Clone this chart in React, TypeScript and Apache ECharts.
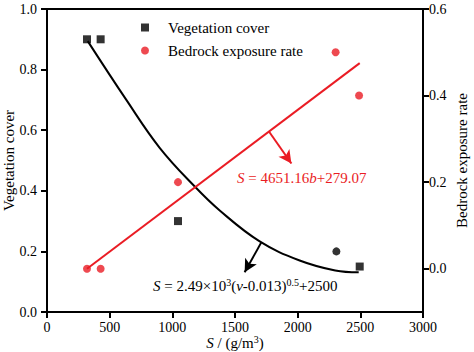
import React, { useEffect, useRef } from "react";
import * as echarts from "echarts";

const FONT = "'Liberation Serif', 'Times New Roman', serif";
const RED = "#ea1c24";

// Vegetation cover (left axis): [S, v]
const vegetationPoints: number[][] = [
  [319, 0.9],
  [428, 0.9],
  [1045, 0.3],
  [2495, 0.15],
];
const vegetationExtra: number[][] = [[2309, 0.2]];
// Bedrock exposure rate (right axis): [S, b]
const bedrockPoints: number[][] = [
  [319, 0.0],
  [428, 0.0],
  [1045, 0.2],
  [2303, 0.5],
  [2490, 0.4],
];
// Fitted curve
const vegetationFit: number[][] = [
  [325, 0.894],
  [633, 0.7],
  [899, 0.542],
  [1179, 0.414],
  [1378, 0.335],
  [1697, 0.233],
  [2016, 0.17],
  [2300, 0.137],
  [2487, 0.131],
];
const bedrockFit: number[][] = [
  [319, 0.0],
  [2495, 0.475],
];
const redArrow: number[][] = [
  [1771, 0.317],
  [1950, 0.243],
];
const blackArrow: number[][] = [
  [1709, 0.229],
  [1577, 0.131],
];
const xTicks = { min: 0, max: 3000, interval: 500 };
const leftTicks = { min: 0, max: 1, interval: 0.2 };
const rightTicks = [0, 0.2, 0.4, 0.6];

export default function App() {
  const ref = useRef<HTMLDivElement>(null);
  useEffect(() => {
    if (!ref.current) return;
    const chart = echarts.init(ref.current, null, { renderer: "svg" });
    const axisLine = { show: true, lineStyle: { color: "#000", width: 2 } };
    const axisTick = { show: true, inside: false, length: 6, lineStyle: { color: "#000", width: 2 } };
    const label = { color: "#000", fontFamily: FONT, fontSize: 14 };
    chart.setOption({
      animation: false,
      backgroundColor: "#fff",
      grid: {
        left: 47,
        right: 51,
        top: 9,
        bottom: 40,
        containLabel: false,
        outerBoundsMode: "none",
        show: true,
        borderColor: "#000",
        borderWidth: 2,
        backgroundColor: "transparent",
      },
      legend: {
        orient: "vertical",
        left: 141,
        top: 20,
        padding: 0,
        itemWidth: 8,
        itemHeight: 8,
        itemGap: 8,
        data: ["Vegetation cover", "Bedrock exposure rate"],
        formatter: "{a|{name}}",
        textStyle: {
          color: "#000",
          fontFamily: FONT,
          fontSize: 15,
          rich: { a: { fontFamily: FONT, fontSize: 15, color: "#000", padding: [0, 0, 0, 14] } },
        },
      },
      xAxis: {
        type: "value",
        ...xTicks,
        axisLine: { ...axisLine, onZero: false },
        axisTick,
        axisLabel: { ...label, margin: 8, formatter: (v: number) => String(v) },
        splitLine: { show: false },
        name: "{i|S} / (g/m{s|3})",
        nameLocation: "middle",
        nameGap: 22,
        nameMoveOverlap: false,
        nameTextStyle: {
          ...label,
          fontSize: 15,
          rich: {
            i: { fontFamily: FONT, fontSize: 15, fontStyle: "italic", color: "#000" },
            s: { fontFamily: FONT, fontSize: 10, color: "#000", verticalAlign: "bottom", padding: [0, 0, 8, 0] },
          },
        },
      },
      yAxis: [
        {
          type: "value",
          position: "left",
          ...leftTicks,
          axisLine: { ...axisLine, onZero: false },
          axisTick,
          axisLabel: { ...label, margin: 10, formatter: (v: number) => v.toFixed(1) },
          splitLine: { show: false },
          name: "Vegetation cover",
          nameLocation: "middle",
          nameGap: 31,
          nameMoveOverlap: false,
          nameRotate: 90,
          nameTextStyle: { ...label, fontSize: 15 },
        },
        {
          type: "value",
          position: "right",
          min: -0.1,
          max: 0.6,
          axisLine: { ...axisLine, onZero: false },
          axisTick: { ...axisTick, customValues: rightTicks },
          axisLabel: { ...label, margin: 6, customValues: rightTicks, formatter: (v: number) => v.toFixed(1) },
          splitLine: { show: false },
          name: "Bedrock exposure rate",
          nameLocation: "middle",
          nameGap: 31,
          nameMoveOverlap: false,
          nameRotate: 90,
          nameTextStyle: { ...label, fontSize: 15 },
        },
      ],
      series: [
        {
          name: "Vegetation cover fit",
          type: "line",
          smooth: 0.4,
          showSymbol: false,
          data: vegetationFit,
          lineStyle: { color: "#000", width: 2 },
          itemStyle: { color: "#000" },
          silent: true,
          markLine: {
            silent: true,
            symbol: ["none", "arrow"],
            symbolSize: [10, 13],
            label: { show: false },
            lineStyle: { color: "#000", width: 2, type: "solid" },
            data: [[{ coord: blackArrow[0] }, { coord: blackArrow[1] }]],
          },
        },
        {
          name: "Bedrock fit",
          type: "line",
          yAxisIndex: 1,
          showSymbol: false,
          data: bedrockFit,
          lineStyle: { color: RED, width: 2 },
          itemStyle: { color: RED },
          silent: true,
          markLine: {
            silent: true,
            symbol: ["none", "arrow"],
            symbolSize: [10, 13],
            label: { show: false },
            lineStyle: { color: RED, width: 2, type: "solid" },
            data: [[{ coord: redArrow[0] }, { coord: redArrow[1] }]],
          },
        },
        {
          name: "Vegetation cover",
          type: "scatter",
          symbol: "rect",
          symbolSize: 8,
          itemStyle: { color: "#000" },
          data: [
            ...vegetationPoints,
            ...vegetationExtra.map((p) => ({ value: p, symbol: "circle" })),
          ],
        },
        {
          name: "Bedrock exposure rate",
          type: "scatter",
          yAxisIndex: 1,
          symbol: "circle",
          symbolSize: 8,
          itemStyle: { color: RED },
          data: bedrockPoints,
        },
      ],
      graphic: [
        {
          type: "text",
          left: 237,
          top: 170,
          style: {
            text: "{i|S} = 4651.16{i|b}+279.07",
            fill: RED,
            font: `15px ${FONT}`,
            rich: {
              i: { fontFamily: FONT, fontSize: 15, fontStyle: "italic", fill: RED },
            },
          },
        },
        {
          type: "text",
          left: 153,
          top: 277,
          style: {
            text: "{i|S} = 2.49×10{s|3}({i|v}-0.013){s|0.5}+2500",
            fill: "#000",
            font: `15px ${FONT}`,
            rich: {
              i: { fontFamily: FONT, fontSize: 15, fontStyle: "italic", fill: "#000" },
              s: { fontFamily: FONT, fontSize: 10, fill: "#000", verticalAlign: "bottom", padding: [0, 0, 8, 0] },
            },
          },
        },
      ],
    });
    return () => chart.dispose();
  }, []);
  return <div ref={ref} style={{ width: 474, height: 352, position: "absolute", left: 0, top: 0 }} />;
}
